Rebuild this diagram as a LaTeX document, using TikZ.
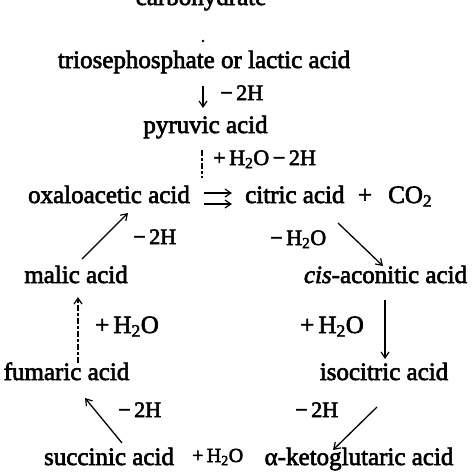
\documentclass[tikz,border=0pt]{standalone}
\usepackage{fontspec}
\setmainfont{Liberation Serif}[FakeBold=2.5]
\usetikzlibrary{arrows.meta}
\begin{document}
\begin{tikzpicture}[x=1pt,y=-1pt,
  main/.style={inner sep=0pt,anchor=base,font=\fontsize{25}{28}\selectfont},
  lab/.style={inner sep=0pt,anchor=base west,font=\fontsize{22}{24}\selectfont},
  conn/.style={line width=1.3pt,-{Straight Barb[length=6pt,width=8pt,line width=1.2pt]}},
  brk/.style={line width=1.2pt,dash pattern=on 6pt off 2pt on 3pt off 2pt}]
\useasboundingbox (0,0) rectangle (474,474);
\begin{scope}
\clip (0,0) rectangle (474,474);
\node[main] (carb) at (201,5) {carbohydrate};
\fill (203,41) circle (1.3pt) coordinate (dot);
\node[main] (trio) at (204,68) {triosephosphate or lactic acid};
\coordinate (a1s) at (203,86);
\coordinate (a1e) at (203,108);
\draw[conn] (a1s) -- (a1e);
\node[lab] (l1) at (220,100) {−\,2H};
\node[main] (pyr) at (205.5,133) {pyruvic acid};
\coordinate (d1s) at (202,150);
\coordinate (d1e) at (202,178);
\draw[brk] (d1s) -- (d1e);
\node[lab] (l2) at (213,165) {+\,H\textsubscript{2}O\,−\,2H};
\node[main,anchor=base east] (oxa) at (190,203) {oxaloacetic acid};
\node[main,anchor=base west] (cit) at (245,203) {citric acid};
\node[main] (plus) at (365,203) {+};
\node[main,anchor=base west] (co2) at (388,203) {CO\textsubscript{2}};
\coordinate (e1) at (204,193);
\coordinate (e2) at (232,193);
\coordinate (e3) at (204,204);
\coordinate (e4) at (232,204);
\draw[conn] (e1) -- (e2);
\draw[conn] (e3) -- (e4);
\node[main] (cis) at (385.5,283) {\textit{cis}-aconitic acid};
\node[main] (mal) at (76,283) {malic acid};
\node[main] (fum) at (66.5,380) {fumaric acid};
\node[main] (iso) at (384,380) {isocitric acid};
\node[main] (suc) at (109,465) {succinic acid};
\node[main] (akg) at (359,465) {α-ketoglutaric acid};
% arrows of the cycle
\coordinate (m1) at (82,259);
\coordinate (m2) at (128,213);
\draw[conn] (m1) -- (m2);
\node[lab] (l3) at (133,244) {−\,2H};
\coordinate (c1) at (338,223);
\coordinate (c2) at (383,266);
\draw[conn] (c1) -- (c2);
\node[lab] (l4) at (270,245) {−\,H\textsubscript{2}O};
\coordinate (c3) at (385,300);
\coordinate (c4) at (385,359);
\draw[conn] (c3) -- (c4);
\node[main,anchor=base west] (l5) at (300,333) {+\,H\textsubscript{2}O};
\coordinate (f1) at (78,363);
\coordinate (f2) at (78,297);
\draw[conn,dash pattern=on 6pt off 2pt on 3pt off 2pt] (f1) -- (f2);
\node[main,anchor=base west] (l6) at (95,333) {+\,H\textsubscript{2}O};
\coordinate (i1) at (377,407);
\coordinate (i2) at (333,450);
\draw[conn] (i1) -- (i2);
\node[lab] (l7) at (295,417) {−\,2H};
\coordinate (s1) at (122,443);
\coordinate (s2) at (85,398);
\draw[conn] (s1) -- (s2);
\node[lab] (l8) at (118,417) {−\,2H};
\node[lab,font=\fontsize{20}{22}\selectfont] (l9) at (192,462) {+\,H\textsubscript{2}O};
\end{scope}
\end{tikzpicture}
\end{document}
